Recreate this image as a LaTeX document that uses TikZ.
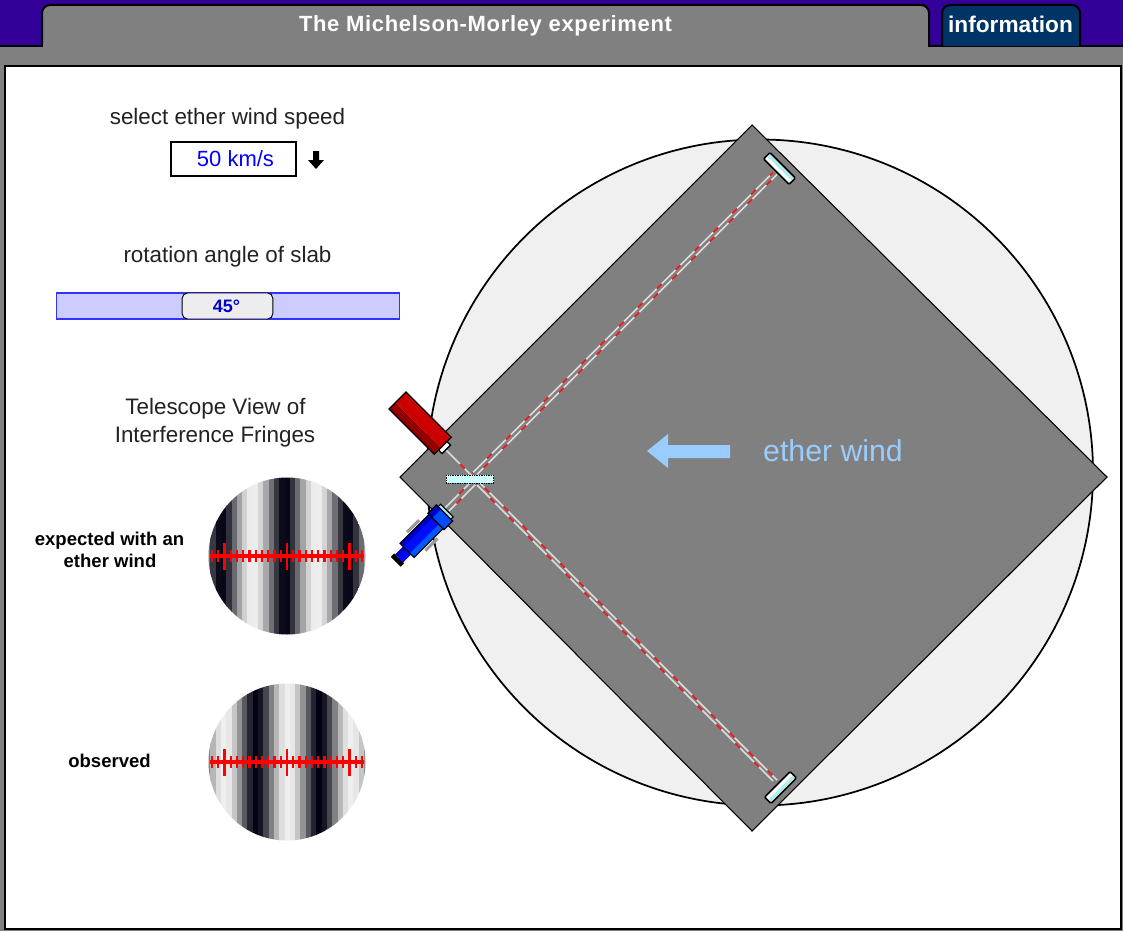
\documentclass[tikz,border=0pt]{standalone}
\usepackage{fontspec}
\setmainfont{Liberation Sans}
\definecolor{panelgray}{HTML}{808080}
\definecolor{tabpurple}{HTML}{330099}
\definecolor{infoblue}{HTML}{003366}
\definecolor{windblue}{HTML}{99CCFF}
\definecolor{inktext}{HTML}{222222}
\definecolor{halo}{HTML}{F0F0F0}
\definecolor{glass}{HTML}{AAEEEE}
\definecolor{splitglass}{HTML}{CCFFFF}
\definecolor{beamgray}{HTML}{DCDCDC}
\definecolor{beamred}{HTML}{E02020}
\definecolor{sliderline}{HTML}{3333FF}
\definecolor{sliderfill}{HTML}{CCCCFF}
\tikzset{
  outl/.style={draw=black,line width=1.5pt},
  label/.style={inner sep=0pt,text=inktext,font=\fontsize{16.8}{20}\selectfont},
  smallbold/.style={inner sep=0pt,text=black,font=\fontsize{13.9}{16}\selectfont\bfseries},
  beam/.style={draw=beamgray,line width=1.3pt},
  beamdash/.style={draw=beamred,line width=1.5pt,dash pattern=on 5pt off 15pt},
  mirrorbox/.style={draw=black,line width=1.2pt,rounded corners=1pt,fill=white},
}
\newcommand{\fringeview}[3]{%
  \begin{scope}
    \clip (#1,#2) circle (78.5);
    \foreach \k in {0,...,30}{
      \pgfmathsetmacro\xa{205+5.3*\k}
      \pgfmathsetmacro\cv{0.5+0.5*cos(5.669*(\xa+2.65-#3))}
      \pgfmathsetmacro\gv{0.94*pow(max(\cv,0.001),0.8)}
      \pgfmathsetmacro\bv{\gv+0.07*(1-\gv)*(1-\gv)}
      \definecolor{bandc}{rgb}{\gv,\gv,\bv}
      \fill[bandc] (\xa,#2-80) rectangle (\xa+5.6,#2+80);
    }
  \end{scope}
  \draw[red,line width=2.3pt] (210,#2) -- (364,#2);
  \foreach \k in {-12,...,12}{
    \draw[red,line width=1.6pt] ({287+6.25*\k},#2-6) -- ({287+6.25*\k},#2+6);
  }
  \foreach \k in {-10,0,10}{
    \draw[red,line width=1.7pt] ({287+6.25*\k},#2-13) -- ({287+6.25*\k},#2+14);
  }
}
\begin{document}
\begin{tikzpicture}[x=0.75pt,y=-0.75pt]
\useasboundingbox (0,0) rectangle (1123,931);
\fill[panelgray] (0,0) rectangle (1123,931);
% top strip
\fill[tabpurple] (0,0) rectangle (1123,46);
\draw[outl] (0,46) -- (42,46);
\draw[outl] (930,46) -- (1123,46);
% title tab
\filldraw[outl,fill=panelgray,rounded corners=6pt] (42,47) -- (42,5) -- (929,5) -- (929,47);
\fill[panelgray] (43,44) rectangle (928,48);
% information tab
\filldraw[outl,fill=infoblue,rounded corners=6pt] (942,46) -- (942,5) -- (1080,5) -- (1080,46);
\node[inner sep=0pt,text=white,font=\fontsize{16.5}{20}\selectfont\bfseries] (title) at (485.5,26) {\addfontfeature{LetterSpace=3}The Michelson-Morley experiment};
\node[inner sep=0pt,text=white,font=\fontsize{17}{20}\selectfont\bfseries] (info) at (1010.5,24.5) {information};
% white panel
\filldraw[outl,fill=white] (4.5,66.5) rectangle (1121,929);

% left controls
\node[label] (windlabel) at (227.5,119) {select ether wind speed};
\node[draw=black,line width=1.5pt,fill=white,minimum width=94pt,minimum height=25.5pt,inner sep=0pt] (speedbox) at (233.5,159) {};
\node[inner sep=0pt,text=blue,font=\fontsize{16.5}{20}\selectfont] (speed) at (235.5,158.5) {50 km/s};
\fill[black] (313,151) -- (319,151) -- (319,160) -- (324,160) -- (316,169) -- (308,160) -- (313,160) -- cycle;
\node[label] (slablabel) at (227.5,257) {rotation angle of slab};
\node[draw=sliderline,line width=0.8pt,fill=sliderfill,minimum width=257.5pt,minimum height=19.5pt,inner sep=0pt] (slider) at (228,306) {};
\node[draw=black,line width=0.7pt,fill=black!7,rounded corners=4pt,minimum width=68pt,minimum height=19.5pt,inner sep=0pt] (thumb) at (227.5,306) {};
\node[inner sep=0pt,text=blue!80!black,font=\fontsize{13.5}{16}\selectfont\bfseries] (angle) at (226.5,306) {45°};
\node[label] (tv1) at (215.5,409) {Telescope View of};
\node[label] (tv2) at (215,437) {Interference Fringes};
\node[smallbold] (exp1) at (109.5,541) {expected with an};
\node[smallbold] (exp2) at (110,561) {ether wind};
\node[smallbold] (obs) at (109.5,761) {observed};

% fringes
\fringeview{287}{556}{316.5}
\fringeview{287}{762}{288}

% apparatus
\filldraw[draw=black,line width=1.3pt,fill=halo] (760,472.5) circle (333);
\filldraw[draw=black,line width=0.8pt,fill=panelgray] (752,125) -- (1107,477) -- (752,831) -- (400,477) -- cycle;

% wind arrow and label
\fill[windblue] (647,451) -- (668,434) -- (668,445) -- (730,445) -- (730,458) -- (668,458) -- (668,468) -- cycle;
\node[inner sep=0pt,text=windblue,font=\fontsize{22.7}{27}\selectfont] (wind) at (833,451) {ether wind};

% beams
\coordinate (a1s) at (472,473.5); \coordinate (a1e) at (773,172.5);
\coordinate (a2s) at (477,474.5); \coordinate (a2e) at (777,174.5);
\coordinate (b1s) at (477,485); \coordinate (b1e) at (773,781);
\coordinate (b2s) at (480,483); \coordinate (b2e) at (777,780);
\coordinate (c1s) at (444,509); \coordinate (c1e) at (473,480);
\coordinate (c2s) at (449,511); \coordinate (c2e) at (476,484);
\coordinate (d1s) at (444,448); \coordinate (d1e) at (471,475);
\foreach \p/\q in {a1s/a1e,a2s/a2e,b1s/b1e,b2s/b2e,c1s/c1e,c2s/c2e,d1s/d1e}{
  \draw[beam] (\p) -- (\q);
}
\draw[beamdash,dash phase=4pt] (a1s) -- (a1e);
\draw[beamdash,dash phase=13pt] (a2s) -- (a2e);
\draw[beamdash,dash phase=6pt] (b1s) -- (b1e);
\draw[beamdash,dash phase=15pt] (b2s) -- (b2e);
\draw[beamdash,dash phase=4pt] (c1s) -- (c1e);
\draw[beamdash,dash phase=12pt] (c2s) -- (c2e);
\draw[beamdash,dash phase=3pt] (d1s) -- (d1e);

% mirrors
\begin{scope}[shift={(779.5,168.5)},rotate=-45]
  \filldraw[mirrorbox] (-18,-4.5) rectangle (18,4.5);
  \fill[glass] (-16.5,-3) rectangle (16.5,0);
\end{scope}
\begin{scope}[shift={(780.5,787.5)},rotate=45]
  \filldraw[mirrorbox] (-18,-4.5) rectangle (18,4.5);
  \fill[glass] (-16.5,0) rectangle (16.5,3);
\end{scope}
\filldraw[draw=black,dash pattern=on 1pt off 0.8pt,line width=0.7pt,fill=splitglass] (446,475) rectangle (493.5,483);

% red telescope
\begin{scope}[shift={(397.5,400.5)},rotate=-45]
  \filldraw[draw=black,line width=1pt,fill=white] (64,-6) rectangle (69,6);
  \fill[red!80!black] (0,-12) rectangle (64,3);
  \fill[red!58!black] (0,3) rectangle (64,12);
  \draw[black,line width=1pt] (0,-12) rectangle (64,12);
\end{scope}

% blue telescope
\begin{scope}[shift={(444.5,513)},rotate=45]
  \fill[black!40] (-40,-14.5) rectangle (-23,-11.5);
  \fill[black!40] (-40,11.5) rectangle (-23,14.5);
  \filldraw[draw=black,line width=0.8pt,fill=glass] (-1,-9) rectangle (3.5,9);
  \fill[black] (-69,-7) rectangle (-64,7);
  \fill[blue!75!black] (-64,-5.5) rectangle (-53,5.5);
  \fill[blue] (-64,-2) rectangle (-53,5.5);
  \fill[blue!75!black] (-53,-10) rectangle (-12,10);
  \fill[blue!95!cyan] (-53,-5) rectangle (-12,4);
  \fill[blue!65!cyan] (-53,4) rectangle (-12,10);
  \draw[black,line width=0.8pt] (-53,-10) rectangle (-12,10);
  \fill[blue!80!black] (-12,-11.5) rectangle (0,11.5);
  \fill[blue!70!cyan] (-12,-5) rectangle (0,11.5);
  \draw[black,line width=1pt] (-12,-11.5) rectangle (0,11.5);
\end{scope}
\end{tikzpicture}
\end{document}
